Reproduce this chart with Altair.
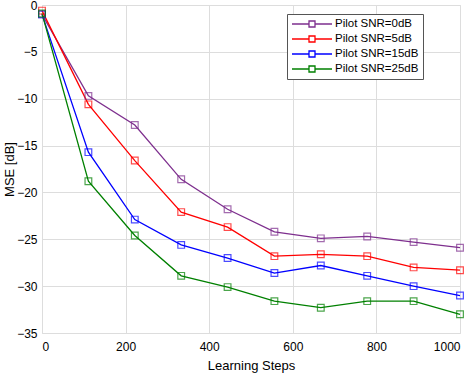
import altair as alt
import pandas as pd

steps = [0, 111, 222, 333, 444, 556, 667, 778, 889, 1000]
series_names = ["Pilot SNR=0dB", "Pilot SNR=5dB", "Pilot SNR=15dB", "Pilot SNR=25dB"]
snr0 = [-1.0, -9.7, -12.8, -18.6, -21.8, -24.2, -24.9, -24.7, -25.3, -25.9]
snr5 = [-0.6, -10.6, -16.6, -22.1, -23.7, -26.8, -26.6, -26.8, -28.0, -28.3]
snr15 = [-1.0, -15.7, -22.9, -25.6, -27.0, -28.6, -27.8, -28.9, -30.0, -31.0]
snr25 = [-0.9, -18.8, -24.6, -28.9, -30.1, -31.6, -32.3, -31.6, -31.6, -33.0]
colors = ["#7E2F8E", "#FF0000", "#0000FF", "#008000"]
x_ticks = [0, 200, 400, 600, 800, 1000]
y_ticks = [0, -5, -10, -15, -20, -25, -30, -35]

rows = []
for name, vals in zip(series_names, [snr0, snr5, snr15, snr25]):
    for s, v in zip(steps, vals):
        rows.append({"step": s, "mse": v, "series": name})
df = pd.DataFrame(rows)

FONT = "Liberation Sans"

x = alt.X("step:Q", title="Learning Steps",
          scale=alt.Scale(domain=[0, 1000], nice=False),
          axis=alt.Axis(values=x_ticks, format="d", ticks=False, labelPadding=8, titlePadding=7,
                        labelFontSize=12, titleFontSize=13, titleFontWeight="normal",
                        domain=False))
y = alt.Y("mse:Q", title="MSE [dB]",
          scale=alt.Scale(domain=[-35, 0], nice=False),
          axis=alt.Axis(values=y_ticks, ticks=False, labelPadding=5, titlePadding=0,
                        labelFontSize=12, titleFontSize=13, titleFontWeight="normal",
                        domain=False))
color = alt.Color("series:N", sort=series_names,
                  scale=alt.Scale(domain=series_names, range=colors),
                  legend=alt.Legend(title=None, orient="none", legendX=245, legendY=9,
                                    symbolType="M-4,0H-0.6M0.6,0H4M-0.6,-0.6H0.6V0.6H-0.6Z",
                                    symbolSize=100, symbolStrokeWidth=1.3,
                                    symbolOffset=15,
                                    labelFontSize=11.5, rowPadding=3,
                                    strokeColor="#555555", fillColor="white",
                                    padding=4, labelOffset=17))

lines = alt.Chart(df).mark_line(strokeWidth=1.3).encode(x=x, y=y, color=color)
points = alt.Chart(df).mark_point(shape="square", size=45, filled=False, strokeWidth=1.2).encode(
    x=x, y=y, color=alt.Color("series:N", sort=series_names,
                              scale=alt.Scale(domain=series_names, range=colors), legend=None))

chart = (lines + points).properties(
    width=418, height=328,
    autosize=alt.AutoSizeParams(type="none"),
    padding={"left": 42, "top": 5, "right": 14, "bottom": 42},
).configure_view(stroke="#555555", strokeWidth=1).configure_axis(
    gridColor="#e2e2e2", labelColor="#333333", titleColor="#333333",
    labelFont=FONT, titleFont=FONT
).configure_legend(labelFont=FONT, labelColor="#111111").configure(background="white")

chart.save("out.html", embed_options={"renderer": "svg", "actions": False})
